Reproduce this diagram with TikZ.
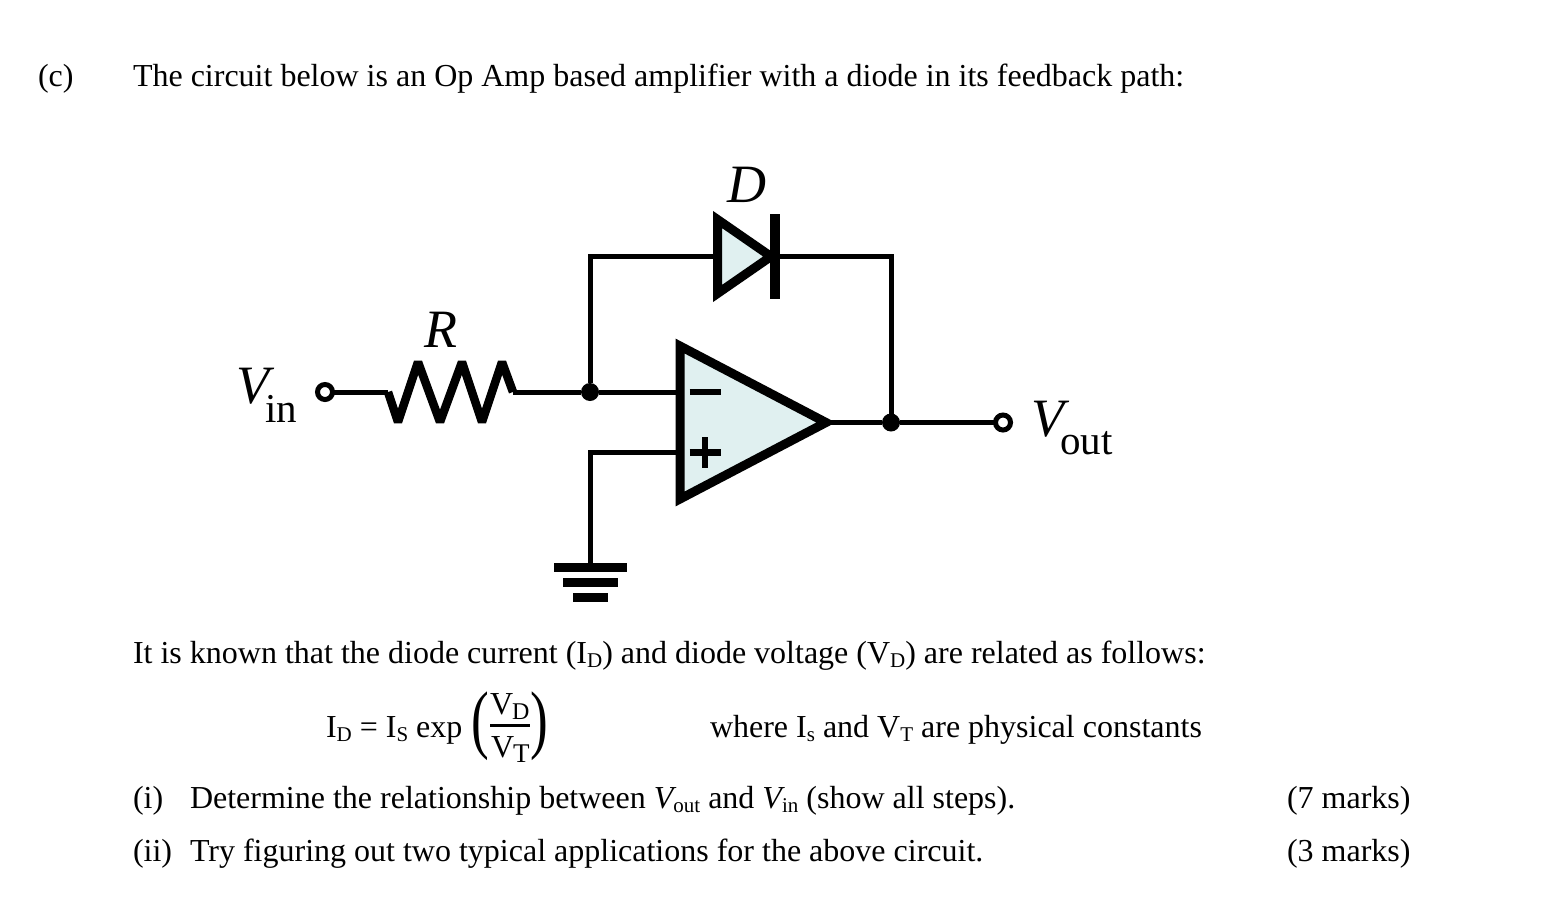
\documentclass[tikz,border=0pt]{standalone}
\usepackage{fontspec}
\setmainfont{Liberation Serif}
\definecolor{amp}{HTML}{E0F0F0}
\newcommand{\sbs}[1]{{\fontsize{21}{21}\selectfont\raisebox{-4.5pt}{#1}}}
\newcommand{\sbf}[2]{{\fontsize{#1}{#1}\selectfont\raisebox{-5pt}{#2}}}
\tikzset{
  x=1pt,y=-1pt,
  txt/.style={anchor=base west,inner sep=0pt,outer sep=0pt,font=\fontsize{32}{36}\selectfont},
  lab/.style={inner sep=0pt,outer sep=0pt,anchor=base west,font=\fontsize{54}{56}\selectfont\itshape},
  sub/.style={inner sep=0pt,outer sep=0pt,anchor=base west,font=\fontsize{41}{43}\selectfont},
  par/.style={inner sep=0pt,outer sep=0pt,anchor=base,font=\fontsize{76}{78}\selectfont},
  wire/.style={line width=5pt,line join=miter},
  term/.style={circle,draw,line width=5pt,fill=white,minimum size=15pt,inner sep=0pt,outer sep=0pt},
  dot/.style={circle,fill=black,minimum size=18pt,inner sep=0pt,outer sep=0pt},
  gbar/.style={line width=9pt},
  body/.style={line width=9pt,fill=amp,miter limit=10},
  sign/.style={line width=6.5pt},
}
\begin{document}
\begin{tikzpicture}
\useasboundingbox (0,0) rectangle (1544,902);
% text
\node[txt] (tc) at (38,86) {(c)};
\node[txt] (t1) at (133,86) {The circuit below is an Op Amp based amplifier with a diode in its feedback path:};
\node[txt] (t2) at (133,663) {It is known that the diode current (I\sbs{D}) and diode voltage (V\sbs{D}) are related as follows:};
\node[txt] (eq) at (326,737) {I\sbs{D} = I\sbs{S} exp};
\node[par] (lp) at (480.5,744.5) {\scalebox{.7}[1]{(}};
\node[par] (rp) at (539.5,744.5) {\scalebox{.7}[1]{)}};
\node[txt] (fn) at (490,714) {V\kern-1pt\sbf{24}{D}};
\node[txt] (fd) at (491,757) {V\kern-1pt\sbf{27}{T}};
\coordinate (fa) at (490,725.5);
\coordinate (fb) at (530,725.5);
\draw[line width=3pt] (fa) -- (fb);
\node[txt] (wh) at (710,737) {where I\sbs{s} and V\sbs{T} are physical constants};
\node[txt] (il) at (133,808) {(i)};
\node[txt] (i) at (190,808) {Determine the relationship between \textit{V}\kern-3pt\sbs{out} and \textit{V}\kern-3pt\sbs{in} (show all steps).};
\node[txt] (iil) at (133,861) {(ii)};
\node[txt] (ii) at (190,861) {Try figuring out two typical applications for the above circuit.};
\node[txt] (m7) at (1287,808) {(7 marks)};
\node[txt] (m3) at (1287,861) {(3 marks)};
% labels
\node[lab] (lD) at (727,202) {D};
\node[lab] (lR) at (424,347) {R};
\node[lab] (lV) at (236,403) {V};
\node[sub] (lin) at (265,422) {in};
\node[lab] (lO) at (1031,436) {V};
\node[sub] (lout) at (1060,454) {out};
% anchors
\coordinate (a1) at (680,346);
\coordinate (a2) at (680,499);
\coordinate (a3) at (826,422.5);
\coordinate (inm) at (680,392);
\coordinate (inp) at (680,452);
\node[term] (vin) at (325,392) {};
\node[dot] (j1) at (590,392) {};
\node[dot] (j2) at (891,422.5) {};
\node[term] (vout) at (1003,422.5) {};
\coordinate (r0) at (388,392);
\coordinate (r1) at (398,422);
\coordinate (r2) at (418,362);
\coordinate (r3) at (440,422);
\coordinate (r4) at (462,362);
\coordinate (r5) at (482,422);
\coordinate (r6) at (502,362);
\coordinate (r7) at (513,392);
\coordinate (fl) at (590,256.5);
\coordinate (fr) at (891,256.5);
\coordinate (da) at (716,256.5);
\coordinate (dk) at (775,256.5);
\coordinate (gc) at (590,452);
\coordinate (g0) at (590,567);
% connectors
\draw[wire] (vin) -- (r0);
\draw[line width=8.5pt,line join=miter,miter limit=1] (r0) -- (r1) -- (r2) -- (r3) -- (r4) -- (r5) -- (r6) -- (r7);
\draw[wire] (r7) -- (j1);
\draw[wire] (j1) -- (inm);
\draw[wire] (j1) -- (fl) -- (da);
\draw[wire] (dk) -- (fr) -- (j2);
\draw[wire] (inp) -- (gc) -- (g0);
\draw[wire] (a3) -- (j2);
\draw[wire] (j2) -- (vout);
% op amp
\draw[body] (a1) -- (a3) -- (a2) -- cycle;
\draw[sign] (689.5,392) -- (721,392);
\draw[sign] (689.5,452.5) -- (721,452.5);
\draw[sign] (705,437) -- (705,468);
% diode
\draw[body] (717.5,219.5) -- (771,256.5) -- (717.5,293.5) -- cycle;
\draw[line width=10pt] (775,214) -- (775,299);
% ground
\draw[gbar] (554,567.5) -- (626.5,567.5);
\draw[gbar] (563,582.5) -- (618,582.5);
\draw[gbar] (573,597.5) -- (608,597.5);
\end{tikzpicture}
\end{document}
